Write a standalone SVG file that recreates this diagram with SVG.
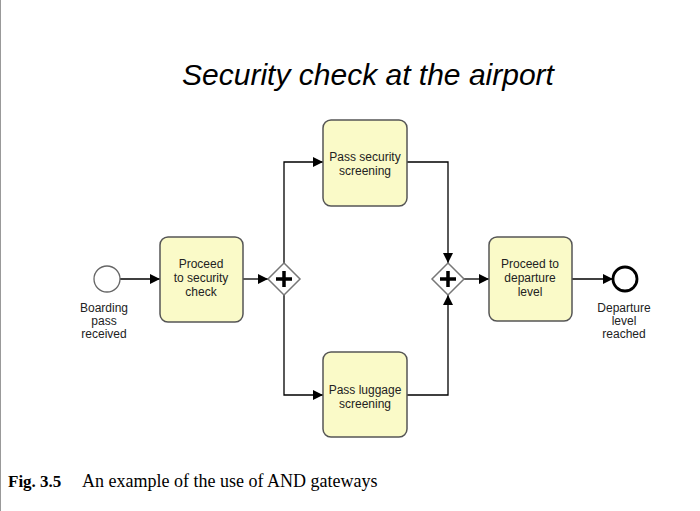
<svg xmlns="http://www.w3.org/2000/svg" width="700" height="511" viewBox="0 0 700 511">
<style>
.task{fill:#fafac8;stroke:#555;stroke-width:1.5}
.lbl{font-family:"Liberation Sans",Arial,sans-serif;font-size:12px;fill:#222;text-anchor:middle}
.gw{fill:#fff;stroke:#777;stroke-width:1.5}
.plus{stroke:#000;stroke-width:3.5}
.con{fill:none;stroke:#000;stroke-width:1.3}
</style>
<defs><marker id="a" viewBox="0 0 10 10" refX="10" refY="5" markerWidth="11" markerHeight="10" markerUnits="userSpaceOnUse" orient="auto"><path d="M0,0 L10,5 L0,10 z" fill="#000"/></marker></defs>
<rect width="700" height="511" fill="#fff"/>
<line x1="0.5" y1="0" x2="0.5" y2="511" stroke="#999"/>
<text x="368" y="85" font-family="Liberation Sans,Arial,sans-serif" font-style="italic" font-size="30" text-anchor="middle">Security check at the airport</text>
<g id="connectors">
<path class="con" d="M120,279 H160" marker-end="url(#a)"/>
<path class="con" d="M243,279 H268" marker-end="url(#a)"/>
<path class="con" d="M284,263 V162 H323" marker-end="url(#a)"/>
<path class="con" d="M284,295 V395 H323" marker-end="url(#a)"/>
<path class="con" d="M407,162 H448 V263" marker-end="url(#a)"/>
<path class="con" d="M407,395 H448 V295" marker-end="url(#a)"/>
<path class="con" d="M464,279 H489" marker-end="url(#a)"/>
<path class="con" d="M572,279 H613" marker-end="url(#a)"/>
</g>
<g id="start"><circle cx="107" cy="279" r="13" fill="#fff" stroke="#666" stroke-width="1.3"/>
<text class="lbl" x="104" y="312">Boarding</text><text class="lbl" x="104" y="325">pass</text><text class="lbl" x="104" y="338">received</text></g>
<g id="t1"><rect class="task" x="160" y="237" width="83" height="85" rx="8"/>
<text class="lbl" x="201" y="268">Proceed</text><text class="lbl" x="201" y="282">to security</text><text class="lbl" x="201" y="296">check</text></g>
<g id="g1"><path class="gw" d="M284,263 L300,279 L284,295 L268,279 z"/><path class="plus" d="M284,271 V287 M276,279 H292"/></g>
<g id="t2"><rect class="task" x="323" y="120" width="84" height="86" rx="8"/>
<text class="lbl" x="365" y="161">Pass security</text><text class="lbl" x="365" y="175">screening</text></g>
<g id="t3"><rect class="task" x="323" y="352" width="84" height="85" rx="8"/>
<text class="lbl" x="365" y="394">Pass luggage</text><text class="lbl" x="365" y="408">screening</text></g>
<g id="g2"><path class="gw" d="M448,263 L464,279 L448,295 L432,279 z"/><path class="plus" d="M448,271 V287 M440,279 H456"/></g>
<g id="t4"><rect class="task" x="489" y="237" width="83" height="84" rx="8"/>
<text class="lbl" x="530" y="268">Proceed to</text><text class="lbl" x="530" y="282">departure</text><text class="lbl" x="530" y="296">level</text></g>
<g id="end"><circle cx="625" cy="279" r="12" fill="#fff" stroke="#000" stroke-width="2.8"/>
<text class="lbl" x="624" y="312">Departure</text><text class="lbl" x="624" y="325">level</text><text class="lbl" x="624" y="338">reached</text></g>
<text x="8" y="487" font-family="Liberation Serif,Times New Roman,serif" font-size="17" font-weight="bold">Fig. 3.5</text>
<text x="82" y="487" font-family="Liberation Serif,Times New Roman,serif" font-size="18">An example of the use of AND gateways</text>
</svg>
